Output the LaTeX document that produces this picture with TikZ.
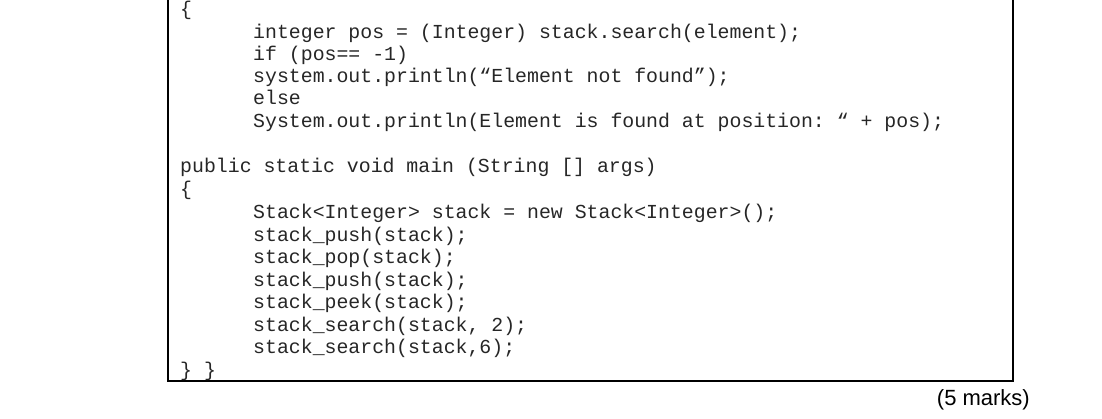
\documentclass[tikz,border=0pt]{standalone}
\usepackage{fontspec}
\setmonofont{Liberation Mono}
\setsansfont{Liberation Sans}
\begin{document}
\begin{tikzpicture}[x=1pt,y=-1pt,
  code/.style={anchor=base west,inner sep=0pt,font=\fontsize{19.85}{20}\ttfamily,text=black!85},
]
\useasboundingbox (0,0) rectangle (1102,418);
\draw[line width=1.2pt] (168,-5) -- (168,381) -- (1013,381) -- (1013,-5);
\node[code] (l1) at (180,15) {\{};
\node[code] (l2) at (253,38) {integer pos = (Integer) stack.search(element);};
\node[code] (l3) at (253,60) {if (pos== -1)};
\node[code] (l4) at (253,82) {system.out.println(“Element not found”);};
\node[code] (l5) at (253,104) {else};
\node[code] (l6) at (253,127) {System.out.println(Element is found at position: “ + pos);};
\node[code] (l7) at (180,172) {public static void main (String [] args)};
\node[code] (l8) at (180,195) {\{};
\node[code] (l9) at (253,218) {Stack<Integer> stack = new Stack<Integer>();};
\node[code] (l10) at (253,241) {stack\_push(stack);};
\node[code] (l11) at (253,263) {stack\_pop(stack);};
\node[code] (l12) at (253,286) {stack\_push(stack);};
\node[code] (l13) at (253,308) {stack\_peek(stack);};
\node[code] (l14) at (253,331) {stack\_search(stack, 2);};
\node[code] (l15) at (253,353) {stack\_search(stack,6);};
\node[code] (l16) at (180,376) {\} \}};
\node[anchor=base east,inner sep=0pt,font=\fontsize{22}{24}\sffamily] (marks) at (1030,405) {(5 marks)};
\end{tikzpicture}
\end{document}
